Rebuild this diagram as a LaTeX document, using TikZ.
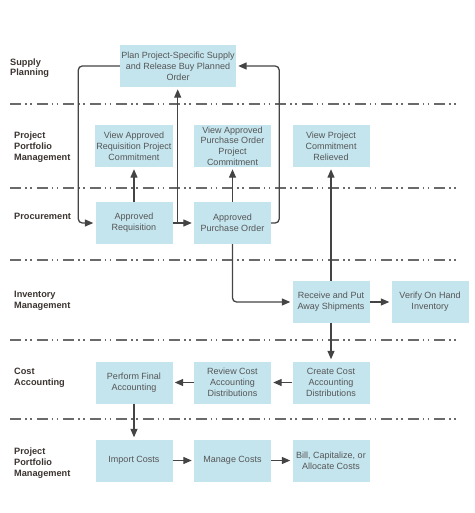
\documentclass[tikz,border=0pt]{standalone}
\usepackage{fontspec}
\setmainfont{Liberation Sans}
\usetikzlibrary{arrows.meta}
\definecolor{boxfill}{HTML}{C4E5EE}
\definecolor{boxtext}{HTML}{555555}
\definecolor{lanetext}{HTML}{3A3330}
\definecolor{linecol}{HTML}{444444}
\definecolor{sepcol}{HTML}{6A6A6A}
\begin{document}
\begin{tikzpicture}[x=1pt,y=-1pt,
  proc/.style={rectangle, fill=boxfill, draw=none, minimum width=77pt, minimum height=42pt,
    inner sep=1pt, align=center, text=boxtext, font=\fontsize{9}{10.8}\selectfont},
  lane/.style={anchor=west, align=left, text=lanetext, inner sep=0pt,
    font=\fontsize{9.2}{10.7}\selectfont\bfseries},
  sep/.style={draw=sepcol, line width=1.3pt,
    dash pattern=on 11pt off 4pt on 1.5pt off 3.5pt on 1.5pt off 5pt},
  conn/.style={draw=linecol, line width=1.3pt, rounded corners=4pt,
    -{Triangle[length=8.5pt,width=7pt]}, shorten >=2pt}
]
\useasboundingbox (0,0) rectangle (474,513);

% separators
\foreach \yy/\nm in {104/s1,188/s2,260/s3,340/s4,419/s5}{
  \coordinate (\nm a) at (10,\yy);
  \coordinate (\nm b) at (457,\yy);
  \draw[sep] (\nm a) -- (\nm b);
}

% lane labels
\node[lane] (l1) at (10,68) {Supply\\Planning};
\node[lane] (l2) at (14,147) {Project\\Portfolio\\Management};
\node[lane] (l3) at (14,216) {Procurement};
\node[lane] (l4) at (14,300.5) {Inventory\\Management};
\node[lane] (l5) at (14,378) {Cost\\Accounting};
\node[lane] (l6) at (14,463) {Project\\Portfolio\\Management};

% boxes
\node[proc, minimum width=116pt] (plan) at (178,66) {Plan Project-Specific Supply\\and Release Buy Planned\\Order};
\node[proc] (var) at (134,146) {View Approved\\Requisition Project\\Commitment};
\node[proc] (vapo) at (232.5,146) {View Approved\\Purchase Order\\Project\\Commitment};
\node[proc] (vpcr) at (331,146) {View Project\\Commitment\\Relieved};
\node[proc] (ar) at (134,223) {Approved\\Requisition};
\node[proc] (apo) at (232.5,223) {Approved\\Purchase Order};
\node[proc] (recv) at (331,302) {Receive and Put\\Away Shipments};
\node[proc] (verify) at (430,302) {Verify On Hand\\Inventory};
\node[proc] (perform) at (134,382.5) {Perform Final\\Accounting};
\node[proc] (review) at (232.5,382.5) {Review Cost\\Accounting\\Distributions};
\node[proc] (create) at (331,382.5) {Create Cost\\Accounting\\Distributions};
\node[proc] (import) at (134,460.5) {Import Costs};
\node[proc] (manage) at (232.5,460.5) {Manage Costs};
\node[proc] (bill) at (331,460.5) {Bill, Capitalize, or\\Allocate Costs};

% connectors
\draw[conn] (plan.west) -| ([xshift=-17pt]ar.west) -- (ar.west);
\draw[conn] (ar.north) -- (var.south);
\draw[conn] (ar.east) -- (apo.west);
\draw[conn] ([xshift=5pt]ar.east) -- ([xshift=5pt]ar.east |- plan.south);
\draw[conn] (apo.north) -- (vapo.south);
\draw[conn] (apo.east) -- ([xshift=8pt]apo.east) |- (plan.east);
\draw[conn] (apo.south) |- (recv.west);
\draw[conn] (recv.north) -- (vpcr.south);
\draw[conn] (recv.east) -- (verify.west);
\draw[conn] (recv.south) -- (create.north);
\draw[conn] (create.west) -- (review.east);
\draw[conn] (review.west) -- (perform.east);
\draw[conn] (perform.south) -- (import.north);
\draw[conn] (import.east) -- (manage.west);
\draw[conn] (manage.east) -- (bill.west);
\end{tikzpicture}
\end{document}
